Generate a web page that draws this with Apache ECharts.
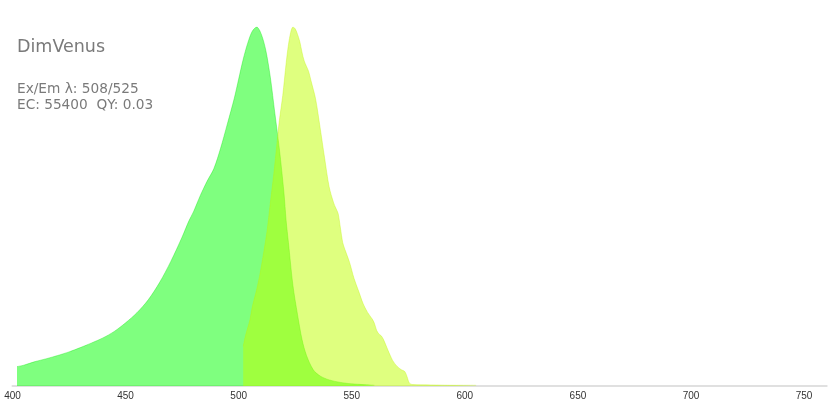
<!DOCTYPE html>
<html>
<head>
<meta charset="utf-8">
<script src="https://cdn.jsdelivr.net/npm/echarts@6/dist/echarts.min.js"></script>
<style>html,body{margin:0;padding:0;background:#fff}#c{width:840px;height:420px}</style>
</head>
<body>
<div id="c"></div>
<script>
const titleText = 'DimVenus';
const subLines = ['Ex/Em λ: 508/525', 'EC: 55400  QY: 0.03'];
const xTicks = [400, 450, 500, 550, 600, 650, 700, 750];

const exWavelengths = [402,405,410,415,420,425,430,435,440,445,450,455,460,465,470,475,478,480,483,486,489,492,495,498,500,502,504,506,508,510,512,514,516,518,520,521,522,524,526,528,530,533,536,540,545,550,555,560];
const exValues = [0.054,0.058,0.068,0.076,0.085,0.095,0.107,0.12,0.134,0.152,0.176,0.204,0.24,0.288,0.347,0.415,0.46,0.485,0.53,0.57,0.605,0.662,0.73,0.80,0.855,0.91,0.955,0.988,1.0,0.98,0.935,0.86,0.76,0.66,0.54,0.46,0.40,0.28,0.2,0.13,0.085,0.045,0.028,0.017,0.01,0.006,0.004,0.002];

const emWavelengths = [502,503,505,506,508,509.5,511,512.5,514,515.5,517,518,519.5,521,522,523,524,525,526,527,528,529,530,531,532,534,536,538,540,542,543,544,545,546,547,549,551,553,555,557,559,560,561,562,563,564,566,568,570,572,573.5,574.5,575.5,577,585,595,605];
const emValues = [0.11,0.14,0.185,0.22,0.27,0.315,0.37,0.43,0.51,0.59,0.68,0.74,0.81,0.9,0.95,0.985,1.0,0.995,0.98,0.96,0.93,0.905,0.89,0.875,0.85,0.80,0.72,0.635,0.555,0.51,0.495,0.48,0.44,0.40,0.38,0.345,0.30,0.265,0.23,0.205,0.187,0.175,0.155,0.145,0.14,0.13,0.10,0.072,0.055,0.045,0.04,0.025,0.008,0.004,0.003,0.002,0.002];

const exData = exWavelengths.map((w, i) => [w, exValues[i]]);
const emData = emWavelengths.map((w, i) => [w, emValues[i]]);

const chart = echarts.init(document.getElementById('c'));
chart.setOption({
  animation: false,
  title: {
    text: titleText,
    subtext: subLines.join('\n'),
    left: 12,
    top: 33,
    itemGap: 25,
    textStyle: { fontSize: 17.5, fontWeight: 'normal', color: '#7a7a7a', fontFamily: 'DejaVu Sans' },
    subtextStyle: { fontSize: 13.7, color: '#7a7a7a', lineHeight: 16, fontFamily: 'DejaVu Sans' }
  },
  grid: { left: 12.5, right: 13.3, top: 27, bottom: 34 },
  xAxis: {
    type: 'value',
    min: 400,
    max: 760,
    interval: 50,
    axisLine: { show: true, lineStyle: { color: '#e0e0e0', width: 2 } },
    axisTick: { show: false },
    splitLine: { show: false },
    axisLabel: {
      fontSize: 10,
      color: '#333',
      margin: 5,
      showMaxLabel: false,
      formatter: v => xTicks.indexOf(v) >= 0 ? String(v) : ''
    }
  },
  yAxis: {
    type: 'value',
    min: 0,
    max: 1,
    show: false
  },
  series: [
    {
      type: 'line',
      data: exData,
      showSymbol: false,
      smooth: 0.3,
      lineStyle: { width: 1, color: 'rgba(0,230,0,0.35)' },
      areaStyle: { color: 'rgba(0,255,0,0.5)', opacity: 1 },
      z: 2
    },
    {
      type: 'line',
      data: emData,
      showSymbol: false,
      smooth: 0.3,
      lineStyle: { width: 1, color: 'rgba(191,240,0,0.35)' },
      areaStyle: { color: 'rgba(191,255,0,0.5)', opacity: 1 },
      z: 3
    }
  ]
});
</script>
</body>
</html>
